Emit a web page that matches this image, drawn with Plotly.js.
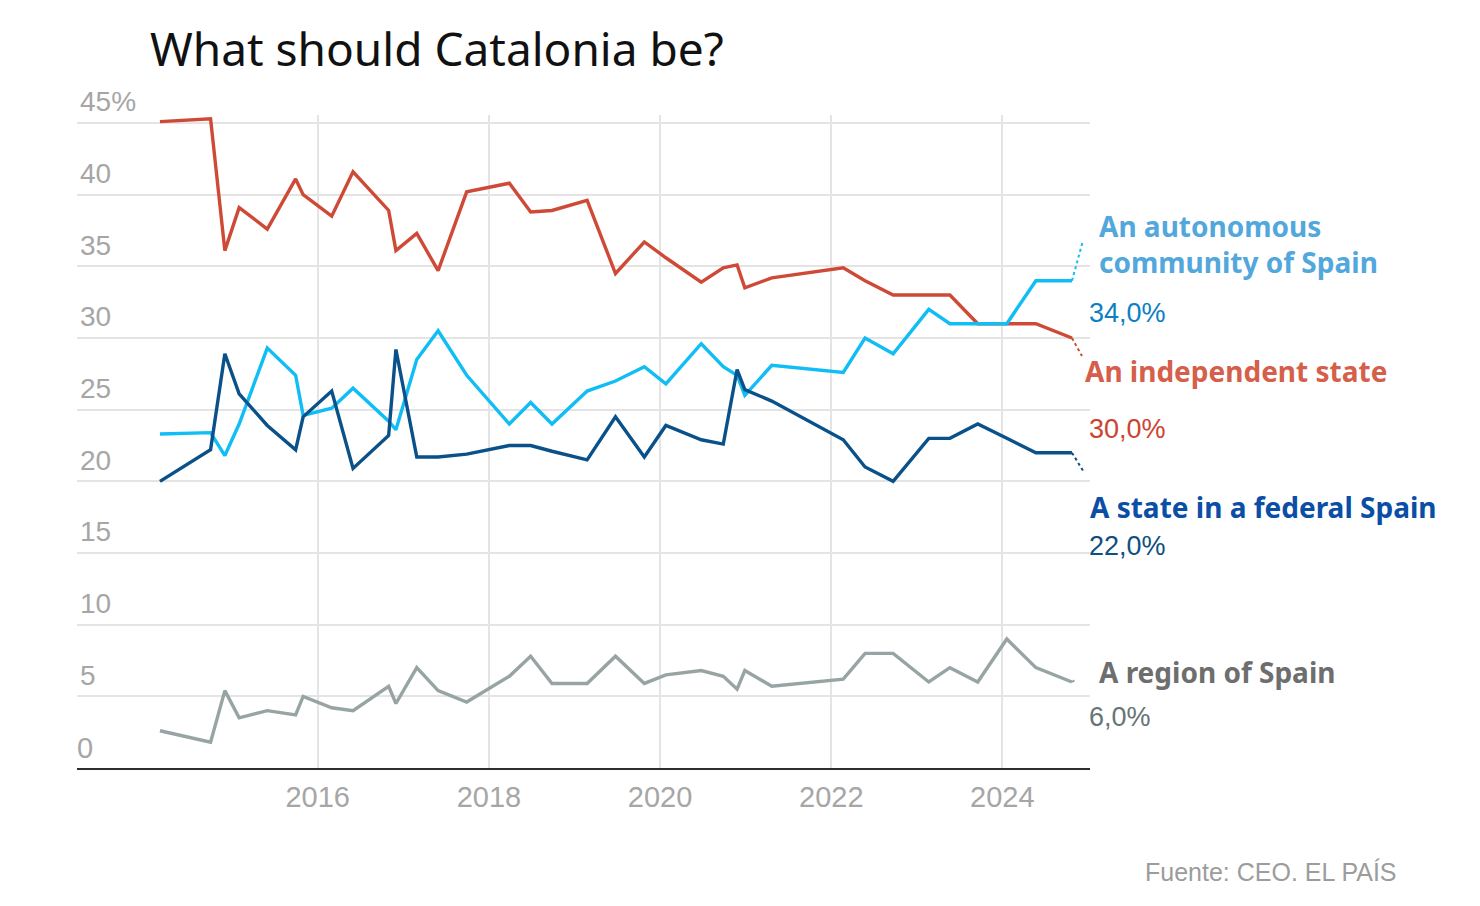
<!DOCTYPE html>
<html>
<head>
<meta charset="utf-8">
<script src="https://cdn.plot.ly/plotly-3.0.1.min.js"></script>
<style>
  html, body { margin: 0; padding: 0; background: #ffffff; }
  #chart { width: 1480px; height: 906px; }
</style>
</head>
<body>
<div id="chart"></div>
<script>
// Survey dates (CEO barometers, approximate)
const dates = [
  "2014-02-27", "2014-10-01", "2014-12-01", "2015-01-31", "2015-05-31",
  "2015-09-29", "2015-10-31", "2016-03-01", "2016-05-31", "2016-10-30",
  "2016-11-30", "2017-02-27", "2017-05-29", "2017-09-28", "2018-03-29",
  "2018-06-28", "2018-09-27", "2019-02-24", "2019-06-25", "2019-10-26",
  "2020-01-26", "2020-06-25", "2020-09-27", "2020-11-25", "2020-12-28",
  "2021-04-22", "2022-02-21", "2022-05-25", "2022-09-22", "2023-02-21",
  "2023-05-22", "2023-09-18", "2024-01-20", "2024-05-23", "2024-10-24"
];

const independent = [
  45.1, 45.3, 36.1, 39.1, 37.6, 41.1, 40.0, 38.5, 41.6, 38.9,
  36.1, 37.3, 34.7, 40.2, 40.8, 38.8, 38.9, 39.6, 34.5, 36.7,
  35.6, 33.9, 34.9, 35.1, 33.5, 34.2, 34.9, 34.0, 33.0, 33.0,
  33.0, 31.0, 31.0, 31.0, 30.0
];

const autonomous = [
  23.3, 23.4, 21.8, 24.0, 29.3, 27.4, 24.6, 25.1, 26.5, 24.2,
  23.6, 28.5, 30.5, 27.4, 24.0, 25.5, 24.0, 26.3, 27.0, 28.0,
  26.8, 29.6, 28.0, 27.4, 26.0, 28.1, 27.6, 30.0, 28.9, 32.0,
  31.0, 31.0, 31.0, 34.0, 34.0
];

const federal = [
  20.0, 22.2, 28.9, 26.1, 23.9, 22.2, 24.5, 26.3, 20.9, 23.2,
  29.2, 21.7, 21.7, 21.9, 22.5, 22.5, 22.1, 21.5, 24.5, 21.7,
  23.9, 22.9, 22.6, 27.8, 26.4, 25.6, 22.9, 21.0, 20.0, 23.0,
  23.0, 24.0, 23.0, 22.0, 22.0
];

const region = [
  2.6, 1.8, 5.4, 3.5, 4.0, 3.7, 5.0, 4.2, 4.0, 5.7,
  4.5, 7.0, 5.4, 4.6, 6.4, 7.8, 5.9, 5.9, 7.8, 5.9,
  6.5, 6.8, 6.4, 5.5, 6.8, 5.7, 6.2, 8.0, 8.0, 6.0,
  7.0, 6.0, 9.0, 7.0, 6.0
];

const seriesNames = ["An independent state", "An autonomous community of Spain", "A state in a federal Spain", "A region of Spain"];
const lineColors = ["#cf4a36", "#10bdf5", "#0a5189", "#98a4a4"];

const yTickVals = [5, 10, 15, 20, 25, 30, 35, 40, 45];
const yTickText = ["5", "10", "15", "20", "25", "30", "35", "40", "45%"];
const xTickVals = ["2016-01-01", "2018-01-01", "2020-01-01", "2022-01-01", "2024-01-01"];
const xTickText = ["2016", "2018", "2020", "2022", "2024"];

const title = "What should Catalonia be?";
const source = "Fuente: CEO. EL PAÍS";

// ---- layout geometry (pixels) ----
const W = 1480, H = 906;
const L = 77, R = 1090, T = 115, B = 768;
const px = x => (x - L) / (R - L);
const py = y => (B - y) / (B - T);

const allSeries = [independent, autonomous, federal, region];

const traces = allSeries.map((vals, i) => ({
  type: "scatter",
  mode: "lines",
  x: dates,
  y: vals,
  name: seriesNames[i],
  line: { color: lineColors[i], width: 3.4, shape: "linear" },
  hoverinfo: "skip",
  showlegend: false
}));

const fmt = v => v.toFixed(1).replace(".", ",") + "%";
const lastIdx = dates.length - 1;
const lastDate = dates[lastIdx];

// dotted leader lines from the last point toward the labels (pixel offsets)
const leaders = [
  { s: 1, dx: 11, dy: 40 },
  { s: 0, dx: 10, dy: -18 },
  { s: 2, dx: 11, dy: -18 },
  { s: 3, dx: 5, dy: 3 }
];
const shapes = leaders.map(l => ({
  type: "line",
  xref: "x", yref: "y",
  xsizemode: "pixel", ysizemode: "pixel",
  xanchor: lastDate, yanchor: allSeries[l.s][lastIdx],
  x0: 0, x1: l.dx, y0: 0, y1: l.dy,
  line: { color: lineColors[l.s], width: 2, dash: "dot" },
  layer: "above"
}));

const labelFont = "Noto Sans, Open Sans, sans-serif";
const numFont = "Liberation Sans, Arial, sans-serif";

const ann = (text, x, y, color, opts = {}) => Object.assign({
  text, xref: "paper", yref: "paper", x: px(x), y: py(y),
  xanchor: "left", yanchor: "middle", showarrow: false,
  align: "left",
  font: { family: labelFont, size: 28, color, weight: 700 }
}, opts);

const annotations = [
  ann("An autonomous<br>community of Spain", 1097, 244, "#52a7dc"),
  ann(fmt(autonomous[lastIdx]), 1087, 313, "#0b80c2", { font: { family: numFont, size: 27, color: "#0b80c2" } }),
  ann("An independent state", 1083, 371, "#d55f4a"),
  ann(fmt(independent[lastIdx]), 1087, 429, "#cc4430", { font: { family: numFont, size: 27, color: "#cc4430" } }),
  ann("A state in a federal Spain", 1088, 507, "#0b4ea6"),
  ann(fmt(federal[lastIdx]), 1087, 546, "#0f4f80", { font: { family: numFont, size: 27, color: "#0f4f80" } }),
  ann("A region of Spain", 1097, 672, "#6e6e6e"),
  ann(fmt(region[lastIdx]), 1087, 717, "#667575", { font: { family: numFont, size: 27, color: "#667575" } }),
  {
    text: source, xref: "paper", yref: "paper", x: px(1399), y: py(872),
    xanchor: "right", yanchor: "middle", showarrow: false,
    font: { family: numFont, size: 25, color: "#9c9c9c" }
  },
  {
    text: "0", xref: "paper", yref: "paper", x: px(75), y: py(748),
    xanchor: "left", yanchor: "middle", showarrow: false,
    font: { family: numFont, size: 29, color: "#a6a6a6" }
  }
];

const layout = {
  width: W, height: H,
  paper_bgcolor: "#ffffff",
  plot_bgcolor: "#ffffff",
  margin: { l: L, r: W - R, t: T, b: H - B, pad: 0 },
  title: {
    text: title,
    x: 150 / W, xanchor: "left", xref: "container",
    y: 1 - 50 / H, yanchor: "middle", yref: "container",
    font: { family: "Noto Sans, Open Sans, sans-serif", size: 46, color: "#111111" }
  },
  xaxis: {
    type: "date",
    range: ["2013-03-10", "2025-01-09"],
    tickmode: "array",
    tickvals: xTickVals,
    ticktext: xTickText,
    showgrid: true,
    gridcolor: "#e4e4e4",
    gridwidth: 2,
    ticks: "",
    ticklabelstandoff: 2,
    tickfont: { family: numFont, size: 29, color: "#a6a6a6" },
    showline: true,
    linecolor: "#2e2e2e",
    linewidth: 2,
    zeroline: false,
    fixedrange: true
  },
  yaxis: {
    range: [0, 45.56],
    tickmode: "array",
    tickvals: yTickVals,
    ticktext: yTickText,
    showgrid: true,
    gridcolor: "#e4e4e4",
    gridwidth: 2,
    ticks: "",
    ticklabelposition: "inside top",
    ticklabeloverflow: "allow",
    ticklabelshift: -2,
    tickfont: { family: numFont, size: 28, color: "#a6a6a6" },
    showline: false,
    zeroline: false,
    fixedrange: true
  },
  shapes,
  annotations,
  showlegend: false,
  hovermode: false
};

Plotly.newPlot("chart", traces, layout, { displayModeBar: false, staticPlot: true });
</script>
</body>
</html>
